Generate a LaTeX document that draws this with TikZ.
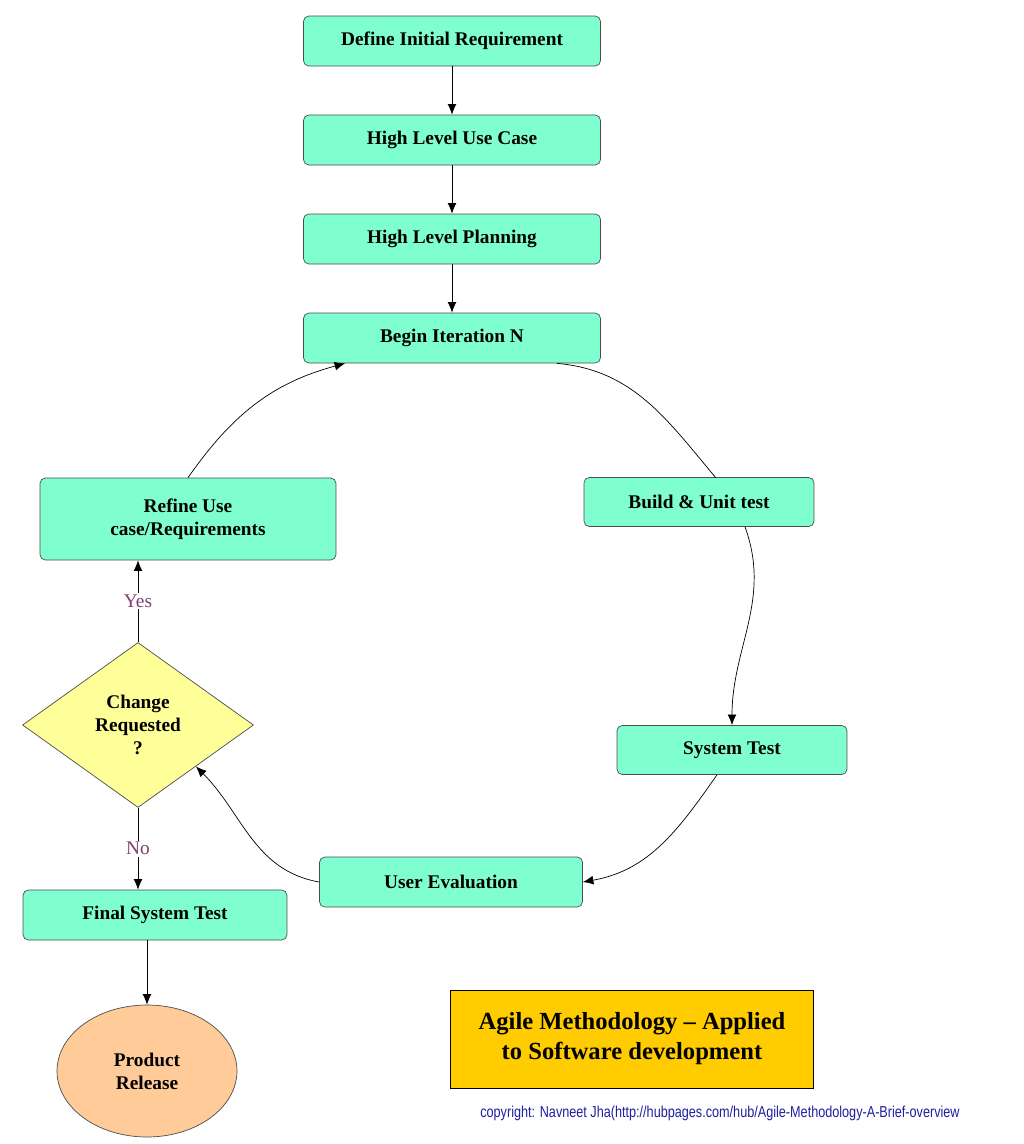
\documentclass[tikz,border=0pt]{standalone}
\usepackage{fontspec}
\setmainfont{Liberation Serif}
\newfontfamily\credfont{Liberation Sans}[FakeStretch=0.8]
\usetikzlibrary{shapes.geometric,arrows.meta}
\definecolor{boxgreen}{HTML}{7FFFD0}
\definecolor{diayellow}{HTML}{FFFF99}
\definecolor{relorange}{HTML}{FFCC99}
\definecolor{titlegold}{HTML}{FFCC00}
\definecolor{labpurple}{HTML}{7F3F6F}
\definecolor{credblue}{HTML}{1F1FA0}
\begin{document}
\begin{tikzpicture}[x=0.02cm,y=-0.02cm,
    stage/.style={draw=black!70,fill=boxgreen,rounded corners=3pt,
        font=\fontsize{11}{13}\selectfont\bfseries,align=center,
        minimum height=1cm,inner sep=2pt},
    flow/.style={-{Latex[length=6pt,width=5pt]},thin},
    yesno/.style={font=\fontsize{11}{13}\selectfont,text=labpurple,fill=white,inner sep=1pt}]
    \useasboundingbox (0,0) rectangle (1024,1144);
    \node[stage,minimum width=5.94cm] (define) at (452,41)  {Define Initial Requirement};
    \node[stage,minimum width=5.94cm] (usecase) at (452,140) {High Level Use Case};
    \node[stage,minimum width=5.94cm] (plan)   at (452,239) {High Level Planning};
    \node[stage,minimum width=5.94cm] (iter)   at (452,338) {Begin Iteration N};
    \node[stage,minimum width=4.6cm,minimum height=0.98cm] (build) at (699,502) {Build \& Unit test};
    \node[stage,minimum width=4.6cm,minimum height=0.98cm] (systest) at (732,750) {System Test};
    \node[stage,minimum width=5.26cm] (eval) at (451,882) {User Evaluation};
    \node[stage,minimum width=5.92cm,minimum height=1.64cm] (refine) at (188,519) {Refine Use\\case/Requirements};
    \node[diamond,draw=black!70,fill=diayellow,minimum width=4.62cm,minimum height=3.3cm,
        inner sep=0pt,font=\fontsize{11}{13}\selectfont\bfseries,align=center] (change) at (138,725) {Change\\Requested\\?};
    \node[stage,minimum width=5.28cm] (final) at (155,915) {Final System Test};
    \node[ellipse,draw=black!70,fill=relorange,minimum width=3.6cm,minimum height=2.64cm,
        font=\fontsize{11}{13}\selectfont\bfseries,align=center] (release) at (147,1071) {Product\\Release};
    \node[draw=black,fill=titlegold,minimum width=7.26cm,minimum height=1.96cm,
        font=\fontsize{14}{17}\selectfont\bfseries,align=center] (title) at (632,1039)
        {Agile Methodology -- Applied\\to Software development};
    \node[text=credblue,font=\credfont\fontsize{9}{10}\selectfont] (credit) at (720,1113)
        {copyright: Navneet Jha(http://hubpages.com/hub/Agile-Methodology-A-Brief-overview};
    % straight steps
    \draw[flow] (define) -- (usecase);
    \draw[flow] (usecase) -- (plan);
    \draw[flow] (plan) -- (iter);
    \draw[flow] (change) -- node[yesno,pos=0.5] (yes) {Yes} (refine.south -| change.north);
    \draw[flow] (change) -- node[yesno,pos=0.5] (no) {No} (final.north -| change.south);
    \draw[flow] (final.south -| release.north) -- (release);
    % iteration loop
    \draw[thin] (iter.south east) ++(-44,0) coordinate (c1) (c1) to[out=-5,in=130] (716,478) coordinate (c2);
    \draw[flow] (build.south) ++(46,0) coordinate (b1) (b1) to[out=-70,in=90] (systest.north);
    \draw[flow] (systest.south) ++(-15,0) coordinate (s1) (s1) to[out=-125,in=10] (eval.east);
    \draw[flow] (eval.west) to[out=170,in=-45] (change.south east);
    \path (iter.south west) ++(42,0) coordinate (i1);
    \draw[flow] (refine.north) to[out=55,in=195] (i1);
\end{tikzpicture}
\end{document}
